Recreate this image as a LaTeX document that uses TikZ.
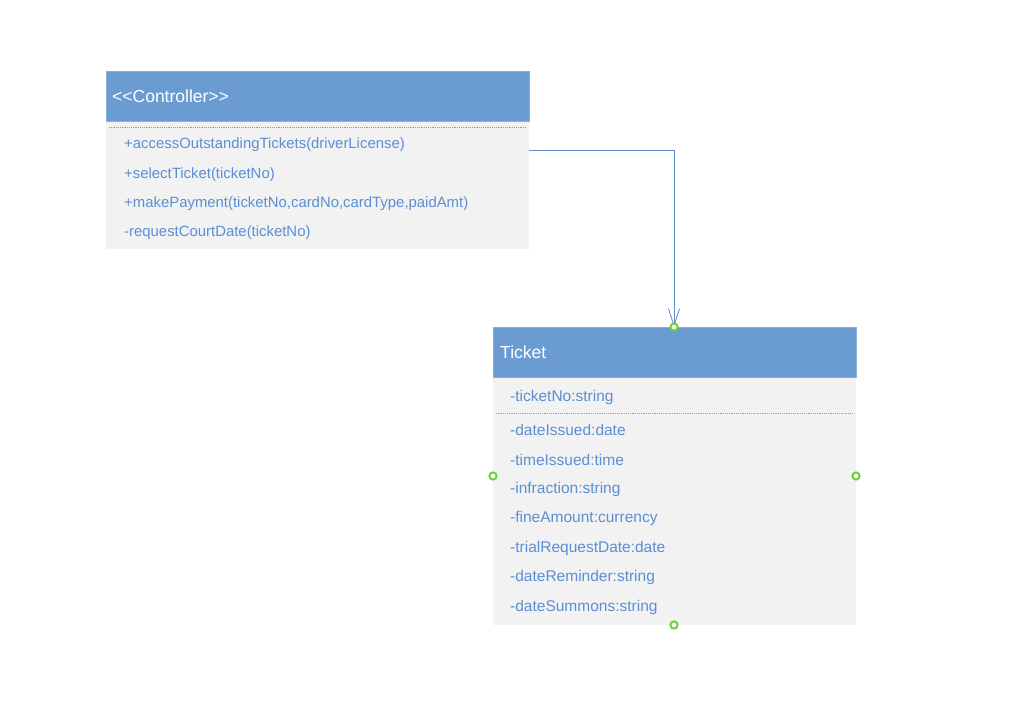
\documentclass[tikz,border=0pt]{standalone}
\usepackage{fontspec}
\setmainfont{Liberation Sans}
\usetikzlibrary{arrows.meta}
\definecolor{headblue}{HTML}{6A9BD1}
\definecolor{bodygray}{HTML}{F2F2F2}
\definecolor{textblue}{HTML}{5B8FD2}
\definecolor{lineblue}{HTML}{5B8CCB}
\definecolor{portgreen}{HTML}{6CD23A}
\tikzset{
  header/.style={fill=headblue, draw=headblue!80, inner sep=0pt},
  member/.style={anchor=west, inner sep=0pt, text=textblue, font=\fontsize{15.5}{18}\selectfont},
  operation/.style={member, font=\fontsize{14.9}{18}\selectfont},
  title/.style={anchor=west, inner sep=0pt, text=white, font=\fontsize{17.5}{20}\selectfont},
  divider/.style={draw=lineblue!80, line width=0.8pt, dash pattern=on 1.2pt off 1pt},
  port/.style={draw=portgreen, fill=white, line width=2pt}
}
\begin{document}
\begin{tikzpicture}[x=1pt, y=-1pt]
    \useasboundingbox (0,0) rectangle (1024,706);

    % Controller class
    \fill[bodygray] (106,121) rectangle (529,249);
    \path[header] (106,71) rectangle (529,121);
    \node[title] (ctrltitle) at (112,96) {<\kern0pt<Controller>\kern0pt>};
    \draw[divider] (109,127.5) -- (526,127.5);
    \foreach \txt [count=\i] in {+accessOutstandingTickets(driverLicense),
        +selectTicket(ticketNo),
        {+makePayment(ticketNo,cardNo,cardType,paidAmt)},
        -requestCourtDate(ticketNo)}
      \node[operation] (op\i) at (124,145+29.3*\i-29.3) {\txt};

    % Ticket class
    \fill[bodygray] (493,377) rectangle (856,625);
    \path[header] (493,327) rectangle (856,377);
    \node[title] (tickettitle) at (500,352) {Ticket};
    \coordinate (ticketin) at (674,327);
    \node[member] (key) at (510,397) {-ticketNo:string};
    \draw[divider] (496,413) -- (853,413);
    \foreach \txt [count=\i] in {-dateIssued:date, -timeIssued:time,
        -infraction:string, -fineAmount:currency, -trialRequestDate:date,
        -dateReminder:string, -dateSummons:string}
      \node[member] (attr\i) at (510,430+29.5*\i-29.5) {\txt};

    % Association
    \coordinate (ctrlout) at (529,150);
    \draw[lineblue, line width=0.8pt, -{Straight Barb[length=17pt, width=11pt]}]
        (ctrlout) -| (ticketin);

    % Ports
    \foreach \p in {(674,327), (493,476), (856,476), (674,625)}
      \draw[port] \p circle (3.6);
\end{tikzpicture}
\end{document}
